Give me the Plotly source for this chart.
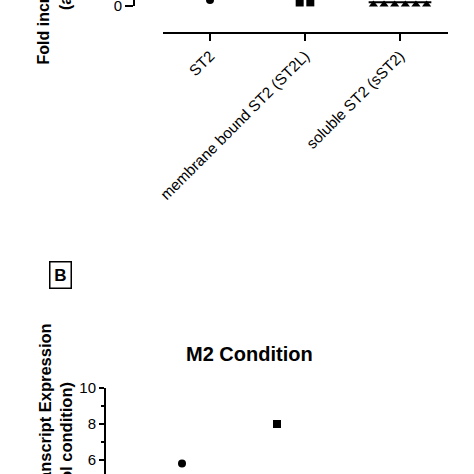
import numpy as np
import plotly.graph_objects as go

# categories shared by both panels
categories = ["ST2", "membrane bound ST2 (ST2L)", "soluble ST2 (sST2)"]

# panel A (only the bottom of the plot is inside the crop)
a_st2 = [1.2]
a_st2l = [0.70, 0.72]
a_sst2 = [0.30, 0.31, 0.30, 0.29, 0.30, 0.31]
a_sst2_mean = 0.74

# panel B, M2 condition
b_st2 = [5.8]
b_st2l = [8.0]
b_ticks = [6, 8, 10]
b_minor = [7, 9]

W = H = 474
FONT = "Liberation Sans, Arial, sans-serif"


def px(x):
    return x / W


def py(y):
    return 1 - y / H


def spread(center, n):
    # spread points of one group side by side, like a scatter dot plot
    if n == 1:
        return [center]
    half = 0.056 * (n - 1)
    return list(center + np.linspace(-half, half, n))


fig = go.Figure()

dot = dict(color="black", size=8)
fig.add_trace(go.Scatter(x=spread(0, len(a_st2)), y=a_st2, mode="markers",
                         marker=dict(symbol="circle", **dot), cliponaxis=False,
                         xaxis="x", yaxis="y"))
fig.add_trace(go.Scatter(x=spread(1, len(a_st2l)), y=a_st2l, mode="markers",
                         marker=dict(symbol="square", **dot), cliponaxis=False,
                         xaxis="x", yaxis="y"))
fig.add_trace(go.Scatter(x=spread(2, len(a_sst2)), y=a_sst2, mode="markers",
                         marker=dict(symbol="triangle-up", **dot), cliponaxis=False,
                         xaxis="x", yaxis="y"))
half = 0.056 * (len(a_sst2) - 1) + 0.05
fig.add_trace(go.Scatter(x=[2 - half, 2 + half], y=[a_sst2_mean, a_sst2_mean], mode="lines",
                         line=dict(color="black", width=2), cliponaxis=False,
                         xaxis="x", yaxis="y"))

fig.add_trace(go.Scatter(x=spread(0, len(b_st2)), y=b_st2, mode="markers",
                         marker=dict(symbol="circle", **dot), cliponaxis=False,
                         xaxis="x2", yaxis="y2"))
fig.add_trace(go.Scatter(x=spread(1, len(b_st2l)), y=b_st2l, mode="markers",
                         marker=dict(symbol="square", **dot), cliponaxis=False,
                         xaxis="x2", yaxis="y2"))

axis_style = dict(showline=True, linecolor="black", linewidth=2, showgrid=False,
                  zeroline=False, ticks="outside", tickcolor="black", tickwidth=2,
                  automargin=False, ticklabeloverflow="allow")

fig.update_layout(
    width=W, height=H, autosize=False,
    margin=dict(l=0, r=0, t=0, b=0, autoexpand=False),
    paper_bgcolor="white", plot_bgcolor="white",
    showlegend=False,
    font=dict(family=FONT, color="black"),
    xaxis=dict(domain=[px(162.5), px(447.5)], range=[-0.5, 2.5], anchor="free",
               position=py(33), tickvals=[0, 1, 2], ticktext=categories,
               tickangle=-45, ticklen=7, tickfont=dict(size=15.3), **axis_style),
    yaxis=dict(domain=[py(6), 1], range=[0, 1.2], anchor="free", position=px(134),
               tickvals=[0], ticklen=8, tickfont=dict(size=15), **axis_style),
    xaxis2=dict(domain=[px(134.5), px(419.5)], range=[-0.5, 2.5], anchor="y2",
                visible=False, automargin=False),
    yaxis2=dict(domain=[0, py(388)], range=[10 - (H - 388) / 18, 10], anchor="free",
                position=px(105), tickvals=b_ticks, ticklen=5, tickfont=dict(size=15),
                minor=dict(tickvals=b_minor, ticklen=3, ticks="outside",
                           tickcolor="black", tickwidth=2),
                **axis_style),
)

notes = [
    dict(text="Fold increase in expression", x=px(43), y=py(67), yanchor="bottom", size=16),
    dict(text="(arbitrary units)", x=px(65), y=py(12), yanchor="bottom", size=16),
    dict(text="Relative Transcript Expression", x=px(44), y=py(322), yanchor="top", size=16.5),
    dict(text="(fold over control condition)", x=px(66), y=py(380), yanchor="top", size=16.5),
]
for n in notes:
    size = n.pop("size")
    fig.add_annotation(xref="paper", yref="paper", xanchor="center", textangle=-90,
                       showarrow=False,
                       font=dict(family=FONT, size=size, color="black", weight="bold"), **n)

fig.add_annotation(text="M2 Condition", xref="paper", yref="paper", x=px(249), y=py(353.5),
                   xanchor="center", yanchor="middle", showarrow=False,
                   font=dict(family=FONT, size=20, color="black", weight="bold"))
fig.add_annotation(text="B", xref="paper", yref="paper", x=px(60), y=py(274.5),
                   xanchor="center", yanchor="middle", showarrow=False,
                   width=20, height=25, borderpad=0, bordercolor="black", borderwidth=1.5,
                   font=dict(family=FONT, size=17, color="black", weight="bold"))

# the page body has an 8px margin by default; drop it so the figure fills the window
fig.write_html("out.html", config={"displayModeBar": False},
               post_script="document.body.style.margin = '0px';")
